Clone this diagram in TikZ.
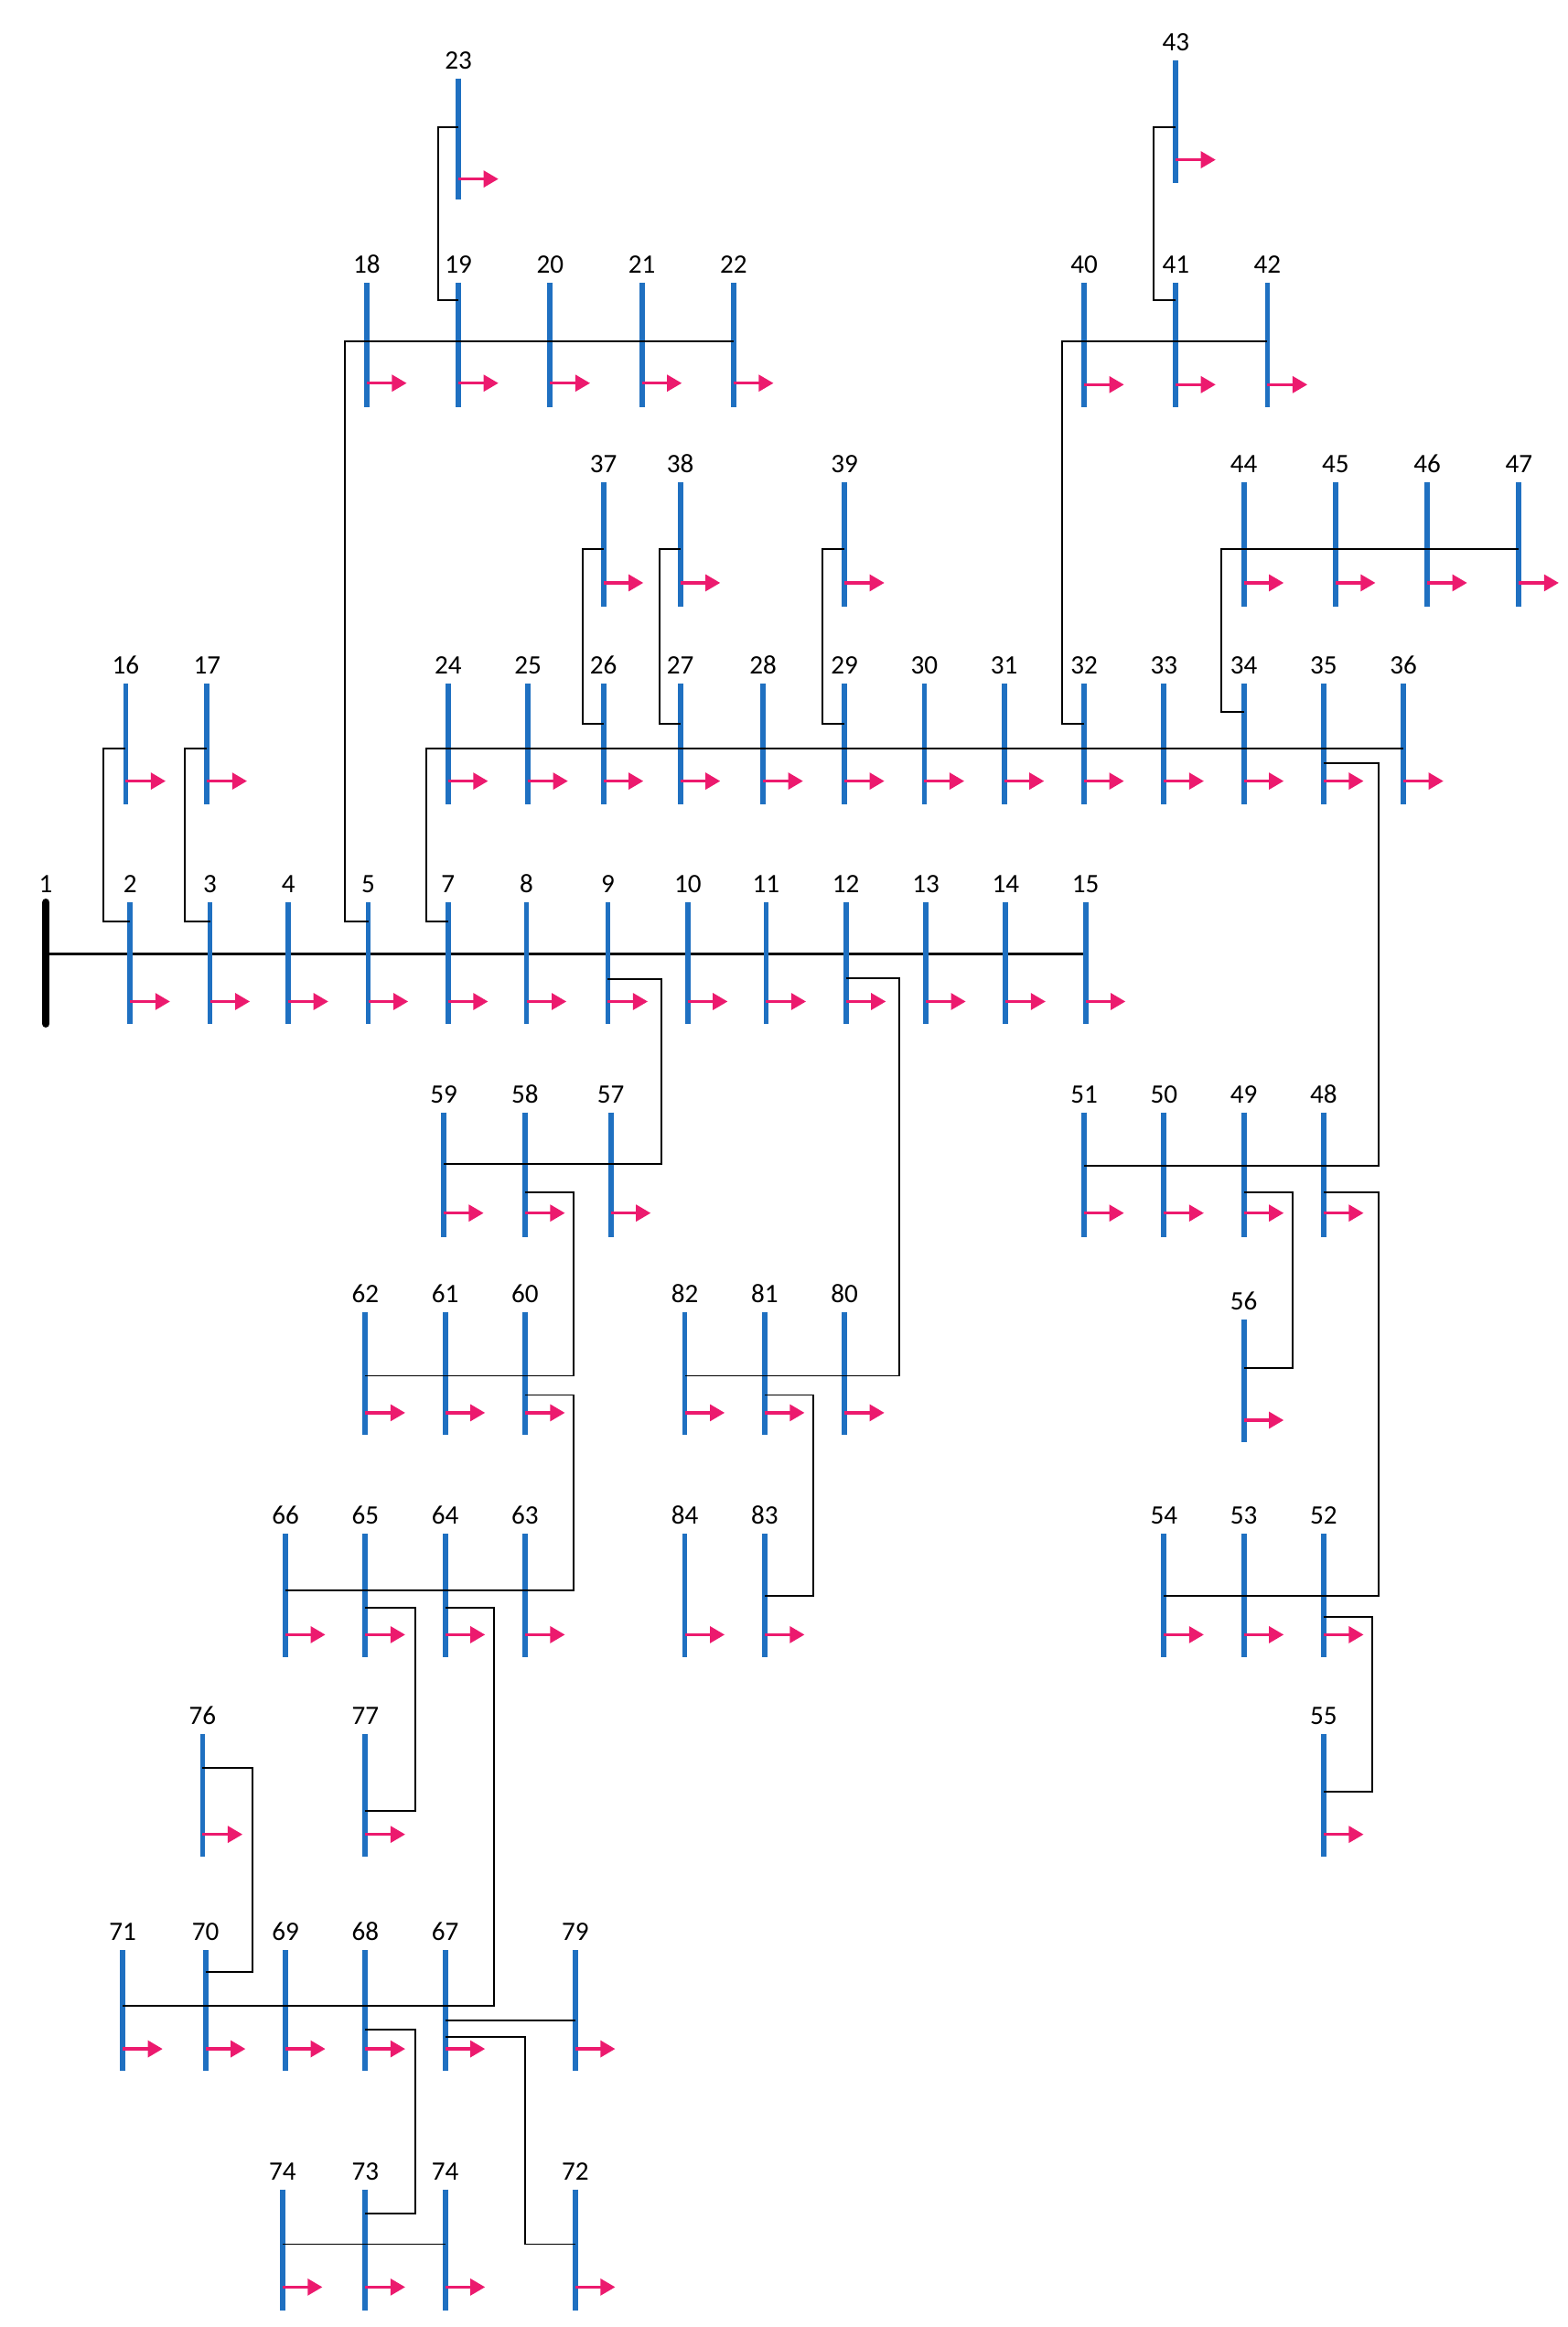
\documentclass[tikz,border=0pt]{standalone}
\usepackage{fontspec}
\setmainfont{Carlito}
\usetikzlibrary{arrows.meta}
\definecolor{busblue}{HTML}{1F70C1}
\definecolor{loadpink}{HTML}{EC1A6E}
\tikzset{
 busline/.style={line width=1.8pt,busblue},
 loadarr/.style={line width=1.1pt,loadpink,-{Triangle[length=5pt,width=5.5pt]}},
 lbl/.style={font=\fontsize{9}{10}\selectfont,anchor=south,inner sep=0pt},
 wire/.style={line width=0.6pt,black}
}
% name, label, x, top, bottom, arrow y
\newcommand\bus[6]{%
 \coordinate (#1t) at (#3,#4);
 \coordinate (#1b) at (#3,#5);
 \draw[busline] (#1t)--(#1b);
 \node[lbl] (l#1) at (#3,#4-6) {#2};
 \coordinate (#1a) at (#3,#6);
 \draw[loadarr] (#1a)--++(27,0);
}
\begin{document}
\begin{tikzpicture}[x=0.5pt,y=-0.5pt]
\useasboundingbox (0,0) rectangle (1060,1573);
% bus 1
\coordinate (b1t) at (31,610); \coordinate (b1b) at (31,692);
\draw[line width=2.6pt,line cap=round] (b1t)--(b1b);
\node[lbl] (lb1) at (31,604) {1};
\draw[line width=1pt] (31,645)--(734,645);
% main row
\foreach \n/\x in {2/88,3/142,4/195,5/249,7/303,8/356,9/411,10/465,11/518,12/572,13/626,14/680,15/734}{\bus{b\n}{\n}{\x}{610}{692}{677}}
% 16 17
\bus{b16}{16}{85}{462}{544}{528}
\bus{b17}{17}{140}{462}{544}{528}
\draw[wire] (88,623)--(70,623)--(70,506)--(85,506);
\draw[wire] (142,623)--(125,623)--(125,506)--(140,506);
% 24-36
\foreach \n/\x in {24/303,25/357,26/408,27/460,28/516,29/571,30/625,31/679,32/733,33/787,34/841,35/895,36/949}{\bus{b\n}{\n}{\x}{462}{544}{528}}
\draw[wire] (303,623)--(288,623)--(288,506)--(949,506);
% 37 38 39
\foreach \n/\x in {37/408,38/460,39/571}{\bus{b\n}{\n}{\x}{326}{410}{394}}
\draw[wire] (408,489)--(394,489)--(394,371)--(408,371);
\draw[wire] (460,489)--(446,489)--(446,371)--(460,371);
\draw[wire] (571,489)--(556,489)--(556,371)--(571,371);
% 18-22
\foreach \n/\x in {18/248,19/310,20/372,21/434,22/496}{\bus{b\n}{\n}{\x}{191}{275}{259}}
\draw[wire] (249,623)--(233,623)--(233,231)--(496,231);
\bus{b23}{23}{310}{53}{135}{121}
\draw[wire] (310,203)--(296,203)--(296,86)--(310,86);
% 40-42
\foreach \n/\x in {40/733,41/795,42/857}{\bus{b\n}{\n}{\x}{191}{275}{260}}
\draw[wire] (733,489)--(718,489)--(718,231)--(857,231);
\bus{b43}{43}{795}{41}{124}{108}
\draw[wire] (795,203)--(780,203)--(780,86)--(795,86);
% 44-47
\foreach \n/\x in {44/841,45/903,46/965,47/1027}{\bus{b\n}{\n}{\x}{326}{410}{394}}
\draw[wire] (841,481)--(826,481)--(826,371)--(1027,371);
% branch from 9
\foreach \n/\x in {59/300,58/355,57/413}{\bus{b\n}{\n}{\x}{752}{836}{820}}
\draw[wire] (411,662)--(447,662)--(447,787)--(300,787);
\foreach \n/\x in {62/247,61/301,60/355}{\bus{b\n}{\n}{\x}{887}{970}{955}}
\draw[wire] (355,806)--(388,806)--(388,930)--(247,930);
\foreach \n/\x in {66/193,65/247,64/301,63/355}{\bus{b\n}{\n}{\x}{1037}{1120}{1105}}
\draw[wire] (355,943)--(388,943)--(388,1075)--(193,1075);
\bus{b77}{77}{247}{1172}{1255}{1240}
\draw[wire] (247,1087)--(281,1087)--(281,1224)--(247,1224);
\bus{b76}{76}{137}{1172}{1255}{1240}
\foreach \n/\x in {71/83,70/139,69/193,68/247,67/301,79/389}{\bus{b\n}{\n}{\x}{1318}{1400}{1385}}
\draw[wire] (139,1333)--(171,1333)--(171,1195)--(137,1195);
\draw[wire] (301,1087)--(334,1087)--(334,1356)--(83,1356);
\draw[wire] (301,1366)--(389,1366);
\bus{b72}{72}{389}{1480}{1562}{1546}
\draw[wire] (301,1377)--(355,1377)--(355,1517)--(389,1517);
\bus{b74a}{74}{191}{1480}{1562}{1546}
\bus{b73}{73}{247}{1480}{1562}{1546}
\bus{b74b}{74}{301}{1480}{1562}{1546}
\draw[wire] (247,1372)--(281,1372)--(281,1496)--(247,1496);
\draw[wire] (191,1517)--(301,1517);
% branch from 12
\foreach \n/\x in {82/463,81/517,80/571}{\bus{b\n}{\n}{\x}{887}{970}{955}}
\draw[wire] (572,661)--(608,661)--(608,930)--(463,930);
\foreach \n/\x in {84/463,83/517}{\bus{b\n}{\n}{\x}{1037}{1120}{1105}}
\draw[wire] (517,943)--(550,943)--(550,1079)--(517,1079);
% branch from 35
\foreach \n/\x in {51/733,50/787,49/841,48/895}{\bus{b\n}{\n}{\x}{752}{836}{820}}
\draw[wire] (895,516)--(932,516)--(932,788)--(733,788);
\bus{b56}{56}{841}{892}{975}{960}
\draw[wire] (841,806)--(874,806)--(874,925)--(841,925);
\foreach \n/\x in {54/787,53/841,52/895}{\bus{b\n}{\n}{\x}{1037}{1120}{1105}}
\draw[wire] (895,806)--(932,806)--(932,1079)--(787,1079);
\bus{b55}{55}{895}{1172}{1255}{1240}
\draw[wire] (895,1093)--(928,1093)--(928,1211)--(895,1211);
\end{tikzpicture}
\end{document}
